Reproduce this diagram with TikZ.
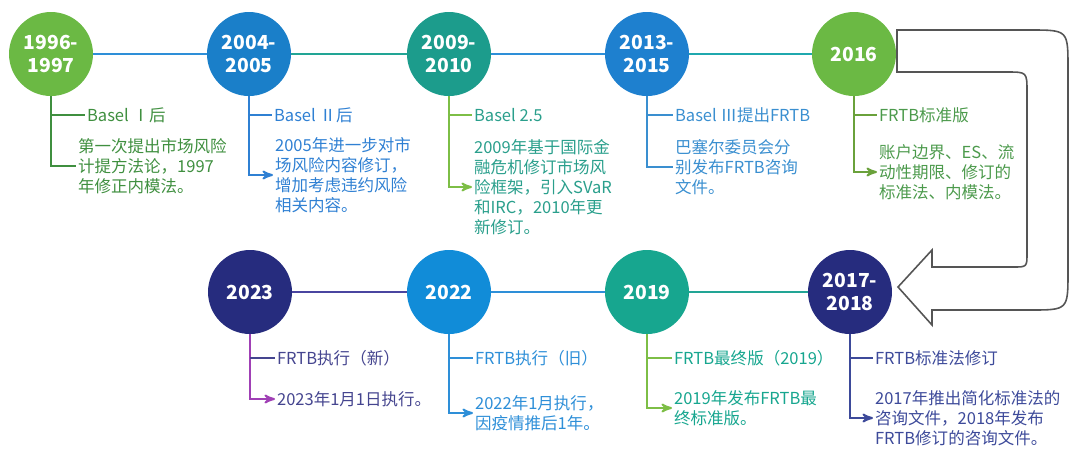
\documentclass[tikz,border=0pt]{standalone}
\usepackage{fontspec}
\setmainfont{Noto Sans CJK SC}
\usetikzlibrary{arrows,positioning}

\definecolor{cGreen}{HTML}{6BB944}
\definecolor{cBlueA}{HTML}{1A7FC9}
\definecolor{cTealA}{HTML}{1C9C8C}
\definecolor{cBlueB}{HTML}{1E80CF}
\definecolor{cNavy}{HTML}{262C7E}
\definecolor{cBlueC}{HTML}{118CD8}
\definecolor{cTealB}{HTML}{17A68F}
\definecolor{lBlue}{HTML}{2E8FD8}
\definecolor{lTeal}{HTML}{22A595}
\definecolor{lCyan}{HTML}{1FA8AE}
\definecolor{lIndigo}{HTML}{4A45A0}
\definecolor{lLime}{HTML}{7DBE46}
\definecolor{lPurple}{HTML}{A040B5}
\definecolor{tGreen}{HTML}{3F8F3F}
\definecolor{tGreenB}{HTML}{4C9A4C}
\definecolor{tBlue}{HTML}{2F80D3}
\definecolor{tBlueB}{HTML}{3A8FD0}
\definecolor{tTeal}{HTML}{2A9F8C}
\definecolor{tNavy}{HTML}{45458F}
\definecolor{tNavyB}{HTML}{3D4A9A}
\definecolor{arrowGray}{HTML}{555555}

\begin{document}
\begin{tikzpicture}[x=0.02cm, y=-0.02cm, >=stealth',
                yr/.style={circle, minimum size=1.68cm, inner sep=0pt, text=white, align=center,
                           font=\fontsize{11}{13}\selectfont\bfseries},
                headline/.style={anchor=west, inner sep=1pt, font=\fontsize{9.4}{11.3}\selectfont},
                bodytext/.style={anchor=west, inner sep=1pt, align=left, font=\fontsize{9.4}{11.3}\selectfont},
                link/.style={line width=1.6pt},
                stem/.style={line width=1.1pt}]
                \useasboundingbox (0,0) rectangle (1080,458);

                % big turning arrow
                \draw[line width=0.9pt, draw=arrowGray, fill=white]
                          (897,30) -- (1030,30) .. controls (1068,30) .. (1068,68) -- (1068,272)
                          .. controls (1068,310) .. (1030,310) -- (932,310) -- (932,325) -- (898,287)
                          -- (932,250) -- (932,267) -- (1013,267) .. controls (1027,267) .. (1027,253)
                          -- (1027,92) .. controls (1027,72) .. (1007,72) -- (897,72) -- cycle;

                % years
                \node[yr, fill=cGreen] (y1996) at (51,54) {1996-\\1997};
                \node[yr, fill=cBlueA] (y2004) at (249,54) {2004-\\2005};
                \node[yr, fill=cTealA] (y2009) at (449,54) {2009-\\2010};
                \node[yr, fill=cBlueB] (y2013) at (647,54) {2013-\\2015};
                \node[yr, fill=cGreen] (y2016) at (854,54) {2016};
                \node[yr, fill=cNavy] (y2023) at (250,292) {2023};
                \node[yr, fill=cBlueC] (y2022) at (449,292) {2022};
                \node[yr, fill=cTealB] (y2019) at (647,292) {2019};
                \node[yr, fill=cNavy] (y2017) at (850,292) {2017-\\2018};

                % headlines
                \node[headline, text=tGreen] (h1996) at (85,115) {Basel Ⅰ后};
                \node[headline, text=tBlue] (h2004) at (272,115) {Basel Ⅱ后};
                \node[headline, text=tTeal] (h2009) at (472,115) {Basel 2.5};
                \node[headline, text=tBlueB] (h2013) at (673,115) {Basel Ⅲ提出FRTB};
                \node[headline, text=tGreenB] (h2016) at (877,115) {FRTB标准版};
                \node[headline, text=tNavy] (h2023) at (275,358) {FRTB执行（新）};
                \node[headline, text=lBlue] (h2022) at (473,358) {FRTB执行（旧）};
                \node[headline, text=cTealB] (h2019) at (672,358) {FRTB最终版（2019）};
                \node[headline, text=tNavyB] (h2017) at (873,358) {FRTB标准法修订};

                % texts
                \node[bodytext, text=tGreen] (b1996) at (76,166) {第一次提出市场风险\\计提方法论，1997\\年修正内模法。};
                \node[bodytext, text=tBlue] (b2004) at (273,175) {2005年进一步对市\\场风险内容修订，\\增加考虑违约风险\\相关内容。};
                \node[bodytext, text=tTeal] (b2009) at (472,187) {2009年基于国际金\\融危机修订市场风\\险框架，引入SVaR\\和IRC，2010年更\\新修订。};
                \node[bodytext, text=tBlueB] (b2013) at (673,167) {巴塞尔委员会分\\别发布FRTB咨询\\文件。};
                \node[bodytext, text=tGreenB] (b2016) at (877,172) {账户边界、ES、流\\动性期限、修订的\\标准法、内模法。};
                \node[bodytext, text=tNavy] (b2023) at (275,399) {2023年1月1日执行。};
                \node[bodytext, text=lBlue] (b2022) at (473,413) {2022年1月执行，\\因疫情推后1年。};
                \node[bodytext, text=cTealB] (b2019) at (672,408) {2019年发布FRTB最\\终标准版。};
                \node[bodytext, text=tNavyB] (b2017) at (873,418) {2017年推出简化标准法的\\咨询文件，2018年发布\\FRTB修订的咨询文件。};

                % timeline
                \draw[link, lBlue] (y1996) -- (y2004);
                \draw[link, lTeal] (y2004) -- (y2009);
                \draw[link, lBlue] (y2009) -- (y2013);
                \draw[link, lCyan] (y2013) -- (y2016);
                \draw[link, lIndigo] (y2023) -- (y2022);
                \draw[link, lBlue] (y2022) -- (y2019);
                \draw[link, lTeal] (y2019) -- (y2017);

                % stems
                \draw[stem, tGreen] (y1996.south) |- (b1996.west);
                \draw[stem, tGreen] (y1996.south |- h1996.west) -- (h1996.west);
                \draw[stem, tBlue, ->] (y2004.south) |- (b2004.west);
                \draw[stem, tBlue] (y2004.south |- h2004.west) -- (h2004.west);
                \draw[stem, lLime, ->] (y2009.south) |- (b2009.west);
                \draw[stem, lLime] (y2009.south |- h2009.west) -- (h2009.west);
                \draw[stem, tBlueB] (y2013.south) |- (b2013.west);
                \draw[stem, tBlueB] (y2013.south |- h2013.west) -- (h2013.west);
                \draw[stem, lLime!85!black, ->] (y2016.south) |- (b2016.west);
                \draw[stem, lLime!85!black] (y2016.south |- h2016.west) -- (h2016.west);
                \draw[stem, lPurple, ->] (y2023.south) |- (b2023.west);
                \draw[stem, tNavy] (y2023.south |- h2023.west) -- (h2023.west);
                \draw[stem, lBlue, ->] (y2022.south) |- (b2022.west);
                \draw[stem, lBlue] (y2022.south |- h2022.west) -- (h2022.west);
                \draw[stem, lLime, ->] (y2019.south) |- (b2019.west);
                \draw[stem, lLime] (y2019.south |- h2019.west) -- (h2019.west);
                \draw[stem, tNavyB, ->] (y2017.south) |- (b2017.west);
                \draw[stem, tNavyB] (y2017.south |- h2017.west) -- (h2017.west);
\end{tikzpicture}
\end{document}
